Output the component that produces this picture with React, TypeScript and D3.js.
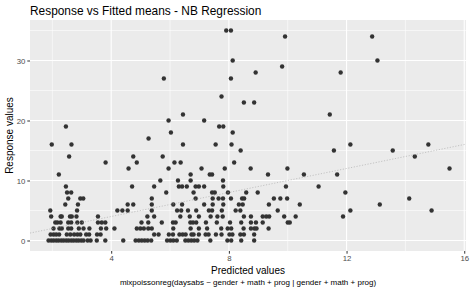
import React, { useRef, useEffect } from "react";
import * as d3 from "d3";

const W = 474;
const H = 292;

const title = "Response vs Fitted means - NB Regression";
const xTitle = "Predicted values";
const yTitle = "Response values";
const caption = "mixpoissonreg(daysabs ~ gender + math + prog | gender + math + prog)";

const xTicks = [4, 8, 12, 16];
const yTicks = [0, 10, 20, 30];
const xMinor = [2, 6, 10, 14];
const yMinor = [5, 15, 25, 35];

// fitted means, grouped by the observed response value
const resp0 = [1.87, 1.96, 2.04, 2.13, 2.21, 2.3, 2.38, 2.47, 2.55, 2.64, 2.72, 2.81, 2.89, 2.98, 3.06, 3.2, 3.3, 3.51, 3.8, 4.41, 4.83, 4.94, 5.04, 5.14, 5.24, 5.36, 5.9, 6.01, 6.11, 6.23, 6.52, 6.62, 6.72, 6.82, 6.93, 7.37, 7.95, 8.08, 8.42, 8.86];
const resp1 = [1.94, 2.04, 2.13, 2.23, 2.49, 2.61, 2.74, 2.85, 2.95, 3.15, 3.25, 3.52, 3.64, 5.46, 5.61, 5.96, 6.1, 6.32, 6.43, 6.53, 6.73, 6.8, 6.98, 7.21, 7.31, 7.56, 7.75, 8.02, 8.12, 8.39, 8.51, 8.86];
const resp2 = [2.04, 2.24, 2.32, 2.54, 2.64, 2.9, 3.06, 3.26, 3.65, 3.83, 4.11, 4.87, 4.99, 5.11, 5.26, 5.38, 6.11, 6.7, 6.98, 7.26, 7.74, 7.96, 8.08, 8.5, 8.75, 8.87, 8.94, 9.35];
const resp3 = [2.1, 2.17, 2.28, 2.54, 2.64, 2.85, 3.0, 3.55, 3.68, 3.8, 5.03, 5.26, 5.72, 6.1, 6.19, 6.69, 6.78, 6.89, 7.22, 7.59, 8.04, 8.42, 8.75, 8.92, 9.15, 10.0, 10.07];
const resp4 = [1.96, 2.28, 2.32, 2.6, 2.66, 2.82, 3.55, 5.23, 5.46, 6.35, 6.67, 6.98, 7.38, 7.61, 7.79, 8.51, 8.75, 9.15, 9.27, 9.37, 9.88, 10.27, 11.88];
const resp5 = [1.93, 2.84, 4.21, 4.38, 4.56, 5.38, 6.24, 6.38, 6.61, 6.89, 7.32, 7.43, 7.76, 8.23, 8.39, 9.66, 12.13, 14.89];
const resp6 = [2.44, 2.87, 4.56, 4.75, 5.38, 6.11, 6.41, 7.16, 7.45, 7.81, 8.34, 8.47, 9.36, 10.41, 13.13];
const resp7 = [2.54, 2.95, 3.05, 5.38, 6.87, 7.45, 7.65, 7.8, 8.07, 8.45, 8.52, 9.53, 9.75, 9.98, 14.13];
const resp8 = [2.5, 2.64, 5.87, 6.8, 7.43, 7.52, 7.97, 8.59, 8.98, 11.96];
const resp9 = [2.46, 4.71, 5.46, 6.3, 6.41, 6.57, 6.87, 6.98, 7.16, 7.81, 9.94, 11.05];
const resp10 = [5.67, 6.27, 6.7, 7.8];
const resp11 = [2.22, 6.7, 7.35, 7.43, 9.33, 10.55, 11.68];
const resp12 = [4.59, 5.95, 7.07, 7.86, 8.74, 9.99, 15.5];
const resp13 = [3.81, 4.87, 6.15, 6.36, 8.18];
const resp14 = [2.57, 4.75, 5.75, 14.32];
const resp15 = [8.4, 11.57, 13.57];
const resp16 = [1.98, 2.65, 6.44, 7.55, 8.09, 12.13, 14.78];
const resp17 = [5.27];
const resp18 = [6.03, 8.13];
const resp19 = [2.46, 7.67, 7.81];
const resp20 = [5.95, 7.16];
const resp21 = [6.44, 11.43];
const resp23 = [8.51, 8.86];
const resp24 = [7.75];
const resp27 = [5.79, 8.07];
const resp28 = [8.91, 11.8];
const resp29 = [9.81];
const resp30 = [8.13, 13.05];
const resp34 = [9.91, 12.87];
const resp35 = [7.91, 8.07];

const groups: [number, number[]][] = [
  [0, resp0], [1, resp1], [2, resp2], [3, resp3], [4, resp4], [5, resp5],
  [6, resp6], [7, resp7], [8, resp8], [9, resp9], [10, resp10], [11, resp11],
  [12, resp12], [13, resp13], [14, resp14], [15, resp15], [16, resp16],
  [17, resp17], [18, resp18], [19, resp19], [20, resp20], [21, resp21],
  [23, resp23], [24, resp24], [27, resp27], [28, resp28], [29, resp29],
  [30, resp30], [34, resp34], [35, resp35],
];

const points = groups.flatMap(([y, xs]) => xs.map((x) => ({ x, y })));

const FONT = "'Liberation Sans', Arial, Helvetica, sans-serif";

function App() {
  const svgRef = useRef<SVGSVGElement>(null);

  useEffect(() => {
    const svg = d3.select(svgRef.current);
    svg.selectAll("*").remove();

    const left = 30, right = 466, top = 20, bottom = 251;

    const x = d3.scaleLinear().domain([1.24, 16.06]).range([left, right]);
    const y = d3.scaleLinear().domain([-1.75, 36.75]).range([bottom, top]);

    // panel
    svg.append("rect")
      .attr("x", left).attr("y", top)
      .attr("width", right - left).attr("height", bottom - top)
      .attr("fill", "#EBEBEB");

    const grid = svg.append("g");
    grid.selectAll(".xmin").data(xMinor).join("line")
      .attr("x1", (d) => x(d)).attr("x2", (d) => x(d))
      .attr("y1", top).attr("y2", bottom)
      .attr("stroke", "#fff").attr("stroke-width", 0.55);
    grid.selectAll(".ymin").data(yMinor).join("line")
      .attr("x1", left).attr("x2", right)
      .attr("y1", (d) => y(d)).attr("y2", (d) => y(d))
      .attr("stroke", "#fff").attr("stroke-width", 0.55);
    grid.selectAll(".xmaj").data(xTicks).join("line")
      .attr("x1", (d) => x(d)).attr("x2", (d) => x(d))
      .attr("y1", top).attr("y2", bottom)
      .attr("stroke", "#fff").attr("stroke-width", 1.1);
    grid.selectAll(".ymaj").data(yTicks).join("line")
      .attr("x1", left).attr("x2", right)
      .attr("y1", (d) => y(d)).attr("y2", (d) => y(d))
      .attr("stroke", "#fff").attr("stroke-width", 1.1);

    // points
    svg.append("g").selectAll("circle").data(points).join("circle")
      .attr("cx", (d) => x(d.x)).attr("cy", (d) => y(d.y))
      .attr("r", 2.2).attr("fill", "#333333");

    // y = x reference line
    const [x0, x1] = x.domain();
    svg.append("line")
      .attr("x1", x(x0)).attr("y1", y(x0))
      .attr("x2", x(x1)).attr("y2", y(x1))
      .attr("stroke", "#A6A6A6").attr("stroke-width", 0.6)
      .attr("stroke-dasharray", "1.2,1.6");

    // axes
    const xAxis = d3.axisBottom(x).tickValues(xTicks).tickSize(2.7).tickPadding(2);
    const gx = svg.append("g").attr("transform", `translate(0,${bottom})`).call(xAxis);
    const yAxis = d3.axisLeft(y).tickValues(yTicks).tickSize(2.7).tickPadding(2);
    const gy = svg.append("g").attr("transform", `translate(${left},0)`).call(yAxis);
    [gx, gy].forEach((g) => {
      g.select(".domain").remove();
      g.selectAll(".tick line").attr("stroke", "#333333").attr("stroke-width", 1);
      g.selectAll(".tick text")
        .attr("fill", "#4D4D4D")
        .style("font-family", FONT)
        .style("font-size", "7.8px");
    });

    // titles
    svg.append("text")
      .attr("x", left).attr("y", 14.5)
      .style("font-family", FONT).style("font-size", "11.9px")
      .attr("fill", "#000")
      .text(title);

    svg.append("text")
      .attr("x", (left + right) / 2).attr("y", 273.5)
      .attr("text-anchor", "middle")
      .style("font-family", FONT).style("font-size", "10px")
      .attr("fill", "#000")
      .text(xTitle);

    svg.append("text")
      .attr("transform", `translate(13,${(top + bottom) / 2}) rotate(-90)`)
      .attr("text-anchor", "middle")
      .style("font-family", FONT).style("font-size", "10px")
      .attr("fill", "#000")
      .text(yTitle);

    svg.append("text")
      .attr("x", (left + right) / 2).attr("y", 285)
      .attr("text-anchor", "middle")
      .style("font-family", FONT).style("font-size", "8px")
      .attr("fill", "#000")
      .text(caption);
  }, []);

  return (
    <svg
      ref={svgRef}
      width={W}
      height={H}
      style={{ position: "absolute", left: 0, top: 0, background: "#fff" }}
    />
  );
}

export default App;
